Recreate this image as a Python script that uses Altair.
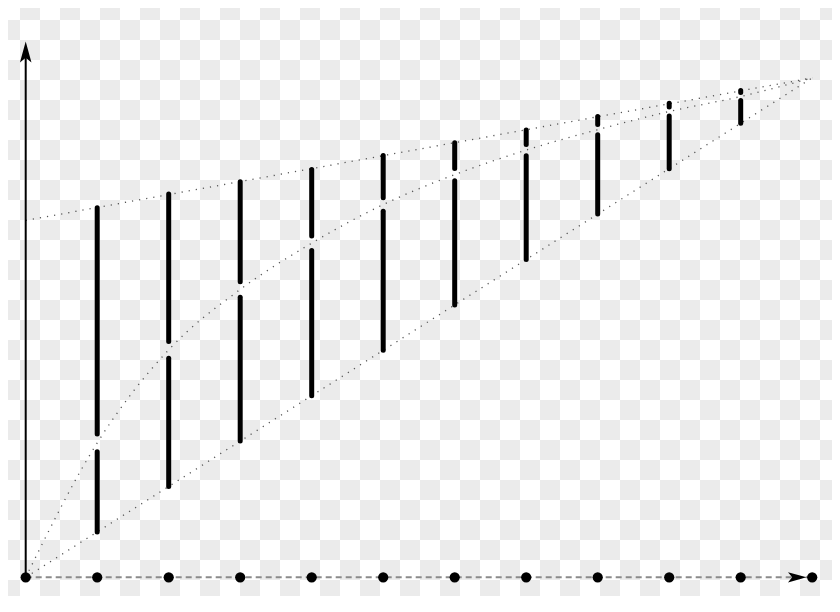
import altair as alt
import pandas as pd

# ---- values ----
tick_x = [0, 1, 2, 3, 4, 5, 6, 7, 8, 9, 10, 11]
curve_y = [0.0, 2.96, 5.01, 6.34, 7.36, 8.21, 8.87, 9.41, 9.86, 10.26, 10.59, 11.0]
upper_line_x = [0, 11]
upper_line_y = [7.86, 11.0]
chord_x = [0, 11]
chord_y = [0.0, 11.0]
bar_x = [1, 2, 3, 4, 5, 6, 7, 8, 9, 10]
bar_top = [8.14, 8.44, 8.71, 8.98, 9.29, 9.57, 9.85, 10.15, 10.44, 10.72]
bar_bottom = [1.0, 2.0, 3.0, 4.0, 5.0, 6.0, 7.0, 8.0, 9.0, 10.0]
y_axis_top = 11.8
x_axis_end = 11.0
x_arrow_tip = 10.92

# ---- layout ----
W, H = 824, 588
XMIN, XMAX = -0.2476, 11.2769
YMIN, YMAX = -0.4119, 12.5396
PY = H / (YMAX - YMIN)

xs = alt.Scale(domain=[XMIN, XMAX], nice=False, zero=False)
ys = alt.Scale(domain=[YMIN, YMAX], nice=False, zero=False)


def X(f):
    return alt.X(f, type="quantitative", scale=xs, axis=None)


def Y(f):
    return alt.Y(f, type="quantitative", scale=ys, axis=None)


# checkerboard background (transparency pattern of the reference)
cells = []
for c in range(42):
    for r in range(31):
        if (c + r) % 2 == 1:
            cells.append({"cx": 20 * c - 8, "cx2": 20 * c + 12,
                          "cy": 20 * r - 8, "cy2": 20 * r + 12})
checker = alt.Chart(pd.DataFrame(cells)).mark_rect(color="#ebebeb", clip=True).encode(
    x=alt.X("cx:Q", scale=alt.Scale(domain=[0, W], nice=False, zero=False), axis=None),
    x2="cx2:Q",
    y=alt.Y("cy:Q", scale=alt.Scale(domain=[0, H], nice=False, zero=False, reverse=True), axis=None),
    y2="cy2:Q",
)

dot_style = dict(strokeDash=[1.2, 6], strokeWidth=1.3, color="#555555")

curve_df = pd.DataFrame({"x": tick_x, "y": curve_y})
curve = alt.Chart(curve_df).mark_line(interpolate="monotone", **dot_style).encode(x=X("x"), y=Y("y"))

upper = alt.Chart(pd.DataFrame({"x": upper_line_x, "y": upper_line_y})).mark_line(**dot_style).encode(
    x=X("x"), y=Y("y"))
chord = alt.Chart(pd.DataFrame({"x": chord_x, "y": chord_y})).mark_line(**dot_style).encode(
    x=X("x"), y=Y("y"))

# horizontal dashed axis
xaxis = alt.Chart(pd.DataFrame({"x": [0], "x2": [x_axis_end], "y": [0]})).mark_rule(
    strokeDash=[6, 4], strokeWidth=2, color="#8a8a8a").encode(x=X("x"), x2="x2:Q", y=Y("y"))

# vertical axis
yaxis = alt.Chart(pd.DataFrame({"x": [0], "y": [0], "y2": [y_axis_top - 0.2]})).mark_rule(
    strokeWidth=2, color="black").encode(x=X("x"), y=Y("y"), y2="y2:Q")

# bars split around the curve
segs = []
for bx, top, bot in zip(bar_x, bar_top, bar_bottom):
    cy = curve_y[tick_x.index(bx)]
    length_px = (top - bot) * PY
    vis_gap = 2 + 0.033 * length_px
    half = (vis_gap / 2 + 2.5) / PY
    up_end = min(top, cy + half)
    segs.append({"x": bx, "y": top, "y2": up_end})
    segs.append({"x": bx, "y": cy - half, "y2": bot})
bars = alt.Chart(pd.DataFrame(segs)).mark_rule(
    strokeWidth=5, strokeCap="round", color="black").encode(x=X("x"), y=Y("y"), y2="y2:Q")

dots = alt.Chart(pd.DataFrame({"x": tick_x, "y": [0] * len(tick_x)})).mark_circle(
    size=105, color="black", opacity=1).encode(x=X("x"), y=Y("y"))

up_arrow = alt.Chart(pd.DataFrame({"x": [0], "y": [y_axis_top]})).mark_point(
    shape="M0,0 L0.55,2 L0,1.55 L-0.55,2 Z", size=441, filled=True, color="black",
    opacity=1, strokeWidth=0).encode(x=X("x"), y=Y("y"))
right_arrow = alt.Chart(pd.DataFrame({"x": [x_arrow_tip], "y": [0]})).mark_point(
    shape="M0,0 L-2,-0.55 L-1.55,0 L-2,0.55 Z", size=342, filled=True, color="black",
    opacity=1, strokeWidth=0).encode(x=X("x"), y=Y("y"))

main = alt.layer(curve, upper, chord, xaxis, bars, yaxis, dots, up_arrow, right_arrow)

chart = alt.layer(checker, main).resolve_scale(x="independent", y="independent").properties(
    width=W, height=H, padding=0, autosize=alt.AutoSizeParams(type="none"),
    background="white",
).configure_view(strokeWidth=0)

chart.save("out.html", embed_options={"renderer": "svg", "actions": False})
